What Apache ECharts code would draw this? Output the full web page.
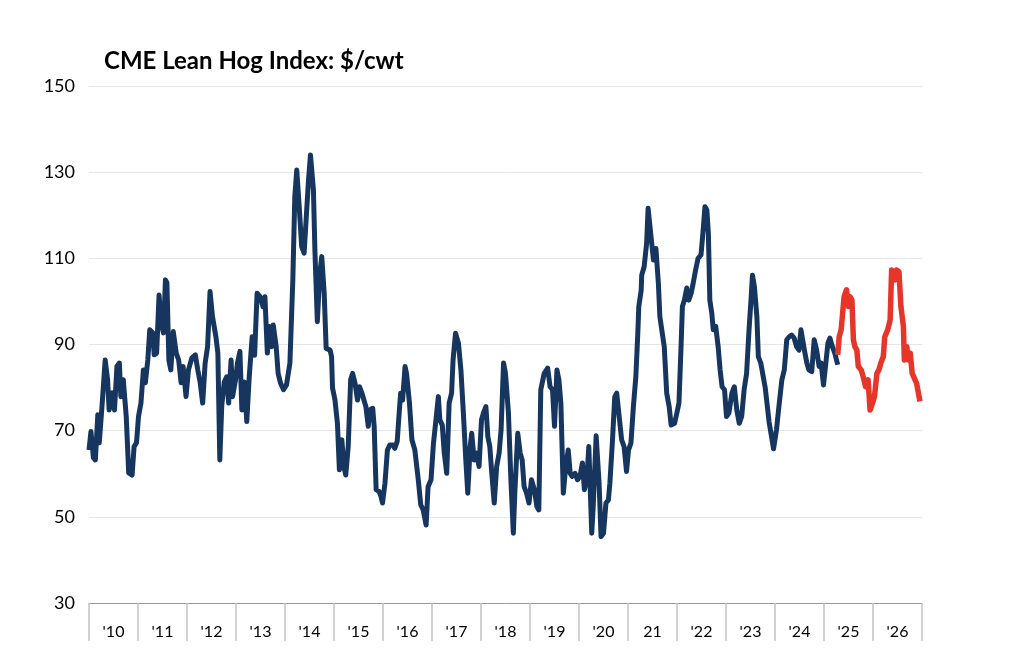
<!DOCTYPE html>
<html>
<head>
<meta charset="utf-8">
<title>CME Lean Hog Index</title>
<script src="https://cdn.jsdelivr.net/npm/echarts@6/dist/echarts.min.js"></script>
<style>
  html, body { margin: 0; padding: 0; background: #fff; }
  #chart { width: 1024px; height: 671px; }
</style>
</head>
<body>
<div id="chart"></div>
<script>
// year labels under the axis (note: '21' has no apostrophe in the source)
var yearLabels = ["'10", "'11", "'12", "'13", "'14", "'15", "'16", "'17", "'18",
  "'19", "'20", "21", "'22", "'23", "'24", "'25", "'26"]

var yTicks = [30, 50, 70, 90, 110, 130, 150]

// actual index, decimal years
var hogDates = [
  2010.00, 2010.04, 2010.09, 2010.13, 2010.18, 2010.21, 2010.27, 2010.33, 2010.38, 2010.41,
  2010.47, 2010.52, 2010.57, 2010.62, 2010.65, 2010.70, 2010.76, 2010.81, 2010.88, 2010.92,
  2010.97, 2011.01, 2011.06, 2011.11, 2011.15, 2011.20, 2011.24, 2011.30, 2011.33, 2011.38,
  2011.43, 2011.47, 2011.52, 2011.56, 2011.59, 2011.63, 2011.67, 2011.72, 2011.78, 2011.83,
  2011.88, 2011.92, 2011.98, 2012.03, 2012.10, 2012.17, 2012.22, 2012.27, 2012.32, 2012.37,
  2012.42, 2012.47, 2012.52, 2012.59, 2012.63, 2012.67, 2012.71, 2012.76, 2012.81, 2012.85,
  2012.90, 2012.93, 2012.99, 2013.03, 2013.08, 2013.12, 2013.17, 2013.22, 2013.27, 2013.33,
  2013.38, 2013.43, 2013.49, 2013.55, 2013.59, 2013.64, 2013.68, 2013.73, 2013.76, 2013.82,
  2013.86, 2013.91, 2013.97, 2014.03, 2014.10, 2014.16, 2014.20, 2014.24, 2014.29, 2014.34,
  2014.39, 2014.43, 2014.48, 2014.52, 2014.58, 2014.61, 2014.66, 2014.71, 2014.75, 2014.80,
  2014.84, 2014.92, 2014.95, 2014.97, 2015.02, 2015.07, 2015.11, 2015.16, 2015.20, 2015.24,
  2015.29, 2015.34, 2015.38, 2015.43, 2015.48, 2015.52, 2015.57, 2015.61, 2015.65, 2015.70,
  2015.73, 2015.79, 2015.82, 2015.86, 2015.92, 2015.96, 2015.99, 2016.04, 2016.09, 2016.14,
  2016.20, 2016.24, 2016.29, 2016.33, 2016.36, 2016.40, 2016.45, 2016.48, 2016.54, 2016.59,
  2016.65, 2016.72, 2016.77, 2016.82, 2016.88, 2016.92, 2016.98, 2017.03, 2017.08, 2017.13,
  2017.16, 2017.21, 2017.25, 2017.30, 2017.35, 2017.40, 2017.43, 2017.48, 2017.54, 2017.59,
  2017.64, 2017.69, 2017.73, 2017.78, 2017.81, 2017.86, 2017.91, 2017.96, 2018.01, 2018.05,
  2018.10, 2018.14, 2018.18, 2018.22, 2018.27, 2018.32, 2018.37, 2018.41, 2018.46, 2018.50,
  2018.56, 2018.61, 2018.66, 2018.69, 2018.75, 2018.80, 2018.84, 2018.88, 2018.93, 2018.98,
  2019.03, 2019.09, 2019.14, 2019.18, 2019.22, 2019.29, 2019.36, 2019.41, 2019.46, 2019.50,
  2019.55, 2019.59, 2019.63, 2019.68, 2019.73, 2019.78, 2019.82, 2019.86, 2019.92, 2019.97,
  2020.02, 2020.07, 2020.11, 2020.16, 2020.20, 2020.26, 2020.29, 2020.35, 2020.41, 2020.45,
  2020.50, 2020.55, 2020.60, 2020.63, 2020.68, 2020.73, 2020.77, 2020.82, 2020.87, 2020.92,
  2020.97, 2021.01, 2021.06, 2021.11, 2021.16, 2021.20, 2021.22, 2021.27, 2021.28, 2021.33,
  2021.38, 2021.41, 2021.47, 2021.52, 2021.57, 2021.62, 2021.65, 2021.70, 2021.74, 2021.79,
  2021.84, 2021.88, 2021.95, 2021.99, 2022.04, 2022.08, 2022.11, 2022.15, 2022.20, 2022.24,
  2022.29, 2022.33, 2022.38, 2022.43, 2022.49, 2022.54, 2022.57, 2022.61, 2022.64, 2022.67,
  2022.71, 2022.74, 2022.79, 2022.84, 2022.88, 2022.92, 2022.97, 2023.01, 2023.06, 2023.12,
  2023.17, 2023.22, 2023.27, 2023.32, 2023.37, 2023.42, 2023.47, 2023.51, 2023.54, 2023.58,
  2023.63, 2023.66, 2023.71, 2023.80, 2023.88, 2023.97, 2024.03, 2024.08, 2024.14, 2024.19,
  2024.24, 2024.29, 2024.34, 2024.39, 2024.44, 2024.49, 2024.53, 2024.56, 2024.60, 2024.65,
  2024.69, 2024.75, 2024.80, 2024.85, 2024.90, 2024.94, 2024.99, 2025.03, 2025.08, 2025.12,
  2025.17, 2025.22, 2025.28
]
var hogPrices = [
  65.5, 69.8, 63.7, 63.2, 73.7, 67.2, 76.4, 86.4, 81.8, 74.8,
  78.8, 74.8, 84.9, 85.7, 77.9, 81.8, 73.3, 60.2, 59.7, 66.3,
  67.2, 73.3, 76.4, 84.1, 81.1, 86.4, 93.4, 92.7, 87.6, 88.0,
  101.5, 95.0, 92.7, 105.0, 104.3, 86.4, 84.1, 93.0, 88.0, 86.4,
  81.1, 84.9, 77.9, 84.1, 86.9, 87.6, 84.1, 81.1, 76.4, 85.7,
  89.5, 102.3, 96.5, 91.8, 88.0, 63.2, 75.9, 81.3, 82.5, 76.4,
  86.4, 77.9, 81.8, 85.7, 88.4, 74.8, 81.3, 72.1, 82.5, 91.8,
  87.5, 101.9, 101.1, 98.8, 101.1, 88.0, 94.2, 89.5, 94.5, 89.5,
  83.3, 81.0, 79.5, 80.6, 85.7, 105.0, 124.3, 130.5, 122.0, 112.7,
  111.2, 111.2, 128.2, 134.0, 125.9, 112.0, 95.3, 106.5, 110.4, 101.9,
  89.1, 88.7, 87.2, 79.9, 77.1, 71.7, 60.9, 67.9, 61.7, 59.7,
  66.3, 81.8, 83.3, 81.0, 77.1, 80.2, 78.7, 79.1, 75.6, 71.0,
  74.8, 75.2, 71.0, 56.3, 55.9, 54.7, 53.2, 57.8, 65.5, 66.7,
  66.7, 65.9, 67.5, 74.1, 78.7, 77.1, 84.9, 83.3, 76.4, 67.9,
  65.5, 58.6, 52.8, 51.6, 48.1, 57.0, 58.6, 67.1, 72.5, 77.9,
  72.5, 71.3, 64.8, 60.1, 76.4, 78.7, 86.4, 92.6, 90.3, 84.1,
  74.1, 63.2, 55.5, 66.3, 69.4, 63.2, 64.8, 61.7, 72.5, 74.1,
  75.6, 68.6, 66.3, 60.1, 53.2, 61.7, 64.8, 70.2, 85.7, 83.3,
  74.1, 58.6, 46.2, 55.5, 69.4, 64.8, 63.2, 57.0, 55.5, 53.2,
  58.6, 56.3, 52.4, 51.6, 79.5, 83.3, 84.5, 80.2, 79.5, 71.0,
  84.1, 81.8, 76.4, 55.5, 61.7, 65.5, 60.1, 59.4, 60.1, 58.6,
  59.4, 62.5, 56.3, 58.6, 66.3, 46.2, 52.4, 68.8, 57.8, 45.4,
  46.2, 53.2, 53.9, 57.8, 67.1, 77.9, 78.7, 73.3, 67.9, 66.3,
  60.5, 65.5, 67.1, 75.6, 82.5, 92.6, 98.8, 102.7, 106.1, 108.1,
  113.5, 121.6, 115.0, 109.6, 112.3, 104.2, 96.5, 92.6, 89.5, 78.7,
  75.6, 71.3, 71.7, 73.7, 76.4, 88.7, 98.8, 100.3, 103.1, 100.3,
  101.9, 104.2, 107.3, 110.0, 110.8, 117.4, 122.0, 121.2, 115.8, 100.3,
  97.3, 93.4, 94.2, 89.5, 84.1, 80.2, 79.5, 73.3, 74.1, 78.7,
  80.2, 74.8, 71.7, 73.3, 79.5, 83.3, 93.4, 100.3, 106.1, 103.4,
  96.5, 87.2, 85.7, 80.0, 72.0, 65.8, 70.2, 75.6, 81.8, 84.1,
  91.1, 91.8, 92.2, 91.5, 89.5, 88.7, 93.4, 93.8, 88.7, 85.7,
  84.1, 83.7, 91.1, 88.7, 84.9, 85.7, 80.6, 84.9, 90.3, 91.5,
  89.5, 88.0, 85.3
]

// forecast part (red)
var forecastDates = [
  2025.28, 2025.31, 2025.35, 2025.37, 2025.41, 2025.46, 2025.50, 2025.53, 2025.57, 2025.60,
  2025.63, 2025.67, 2025.70, 2025.76, 2025.80, 2025.85, 2025.90, 2025.94, 2025.99, 2026.03,
  2026.08, 2026.12, 2026.16, 2026.21, 2026.24, 2026.30, 2026.35, 2026.38, 2026.41, 2026.45,
  2026.48, 2026.53, 2026.57, 2026.62, 2026.64, 2026.69, 2026.72, 2026.76, 2026.80, 2026.84,
  2026.89, 2026.94, 2026.96
]
var forecastPrices = [
  87.6, 91.8, 93.4, 93.8, 101.1, 102.7, 98.8, 101.1, 100.3, 91.1,
  89.5, 88.7, 84.9, 84.1, 82.5, 80.2, 81.8, 74.8, 76.4, 77.9,
  83.3, 84.1, 85.7, 87.2, 91.8, 93.4, 95.7, 107.3, 107.7, 105.0,
  107.3, 106.9, 98.8, 94.2, 86.4, 89.5, 86.4, 88.0, 83.3, 83.3,
  81.0, 77.9, 76.8
]

function zip(xs, ys) {
  return xs.map(function (x, i) { return [x, ys[i]] })
}

var chart = echarts.init(document.getElementById('chart'))
chart.setOption({
  animation: false,
  title: {
    text: 'CME Lean Hog Index: $/cwt',
    left: 99,
    top: 44,
    textStyle: { fontFamily: 'Lato', fontWeight: 'bold', fontSize: 24, color: '#000' }
  },
  grid: { left: 89, right: 102, top: 86, bottom: 68 },
  xAxis: [{
    type: 'value',
    min: 2010,
    max: 2027,
    show: false,
    splitLine: { show: false }
  }, {
    type: 'category',
    data: yearLabels,
    position: 'bottom',
    boundaryGap: true,
    axisLine: { show: true, lineStyle: { color: '#999', width: 1 } },
    axisTick: { show: true, length: 38, lineStyle: { color: '#c4c4c4', width: 1.5 } },
    axisLabel: { margin: 21, fontFamily: 'Lato', fontSize: 16, color: '#000' },
    splitLine: { show: false }
  }],
  yAxis: {
    type: 'value',
    min: yTicks[0],
    max: yTicks[yTicks.length - 1],
    interval: 20,
    axisLine: { show: false },
    axisTick: { show: false },
    axisLabel: { margin: 14, fontFamily: 'Lato', fontSize: 18, color: '#000' },
    splitLine: { lineStyle: { color: '#e6e6e6', width: 1 } }
  },
  series: [{
    name: 'CME Lean Hog Index',
    type: 'line',
    xAxisIndex: 0,
    data: zip(hogDates, hogPrices),
    showSymbol: false,
    lineStyle: { color: '#16365f', width: 5, join: 'round' },
    z: 3
  }, {
    name: 'Forecast',
    type: 'line',
    xAxisIndex: 0,
    data: zip(forecastDates, forecastPrices),
    showSymbol: false,
    lineStyle: { color: '#e8352a', width: 5.5, join: 'round' },
    z: 4
  }]
})
</script>
</body>
</html>
